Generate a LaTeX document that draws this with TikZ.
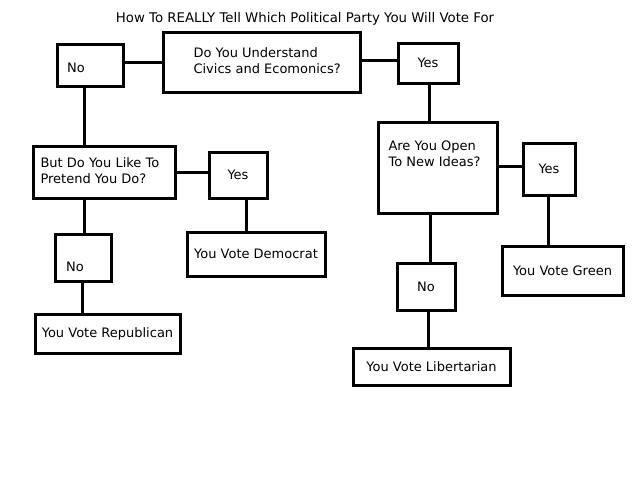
\documentclass[tikz,border=0pt]{standalone}
\usepackage{fontspec}
\setmainfont{DejaVu Sans}
\begin{document}
\begin{tikzpicture}[x=1pt,y=-1pt,
  bx/.style={draw,line width=3pt,inner sep=0pt,font=\fontsize{13}{16}\selectfont},
  ln/.style={line width=3pt}]
\useasboundingbox (0,0) rectangle (640,480);
\node[font=\fontsize{13.3}{15}\selectfont] (title) at (305,19) {How To REALLY Tell Which Political Party You Will Vote For};
\node[bx,minimum width=197,minimum height=60] (q1) at (261.5,62) {};
\node[font=\fontsize{13}{16}\selectfont,align=left,anchor=north west] (q1t) at (190,44) {Do You Understand\\Civics and Ecomonics?};
\node[bx,minimum width=66,minimum height=42] (no1) at (90,65) {};
\node[font=\fontsize{13}{16}\selectfont] (no1t) at (76,68) {No};
\node[bx,minimum width=60,minimum height=40] (yes1) at (428,63) {Yes};
\node[bx,minimum width=142,minimum height=52] (q2) at (104,172) {};
\node[font=\fontsize{13}{16}\selectfont,align=left,anchor=north west] (q2t) at (37,154) {But Do You Like To\\Pretend You Do?};
\node[bx,minimum width=58,minimum height=46] (yes2) at (238,175) {Yes};
\node[bx,minimum width=138,minimum height=44] (dem) at (256,254) {You Vote Democrat};
\node[bx,minimum width=56,minimum height=47] (no2) at (83,257.5) {};
\node[font=\fontsize{13}{16}\selectfont] (no2t) at (75,267) {No};
\node[bx,minimum width=145,minimum height=39] (rep) at (107.5,333.5) {You Vote Republican};
\node[bx,minimum width=119,minimum height=91] (q3) at (437.5,167.5) {};
\node[font=\fontsize{13}{16}\selectfont,align=left,anchor=north west] (q3t) at (385,137) {Are You Open\\To New Ideas?};
\node[bx,minimum width=52,minimum height=52] (yes3) at (549,169) {Yes};
\node[bx,minimum width=121,minimum height=49] (grn) at (562.5,270.5) {You Vote Green};
\node[bx,minimum width=58,minimum height=47] (no3) at (426,286.5) {No};
\node[bx,minimum width=157,minimum height=37] (lib) at (431.5,366.5) {You Vote Libertarian};
\draw[ln] (q1.west |- 0,62) -- (no1.east |- 0,62);
\draw[ln] (q1.east |- 0,60) -- (yes1.west |- 0,60);
\draw[ln] (no1.south -| 84,0) -- (q2.north -| 84,0);
\draw[ln] (q2.east |- 0,172) -- (yes2.west |- 0,172);
\draw[ln] (yes2.south -| 246,0) -- (dem.north -| 246,0);
\draw[ln] (q2.south -| 84,0) -- (no2.north -| 84,0);
\draw[ln] (no2.south -| 82,0) -- (rep.north -| 82,0);
\draw[ln] (yes1.south -| 429,0) -- (q3.north -| 429,0);
\draw[ln] (q3.east |- 0,166) -- (yes3.west |- 0,166);
\draw[ln] (yes3.south -| 548,0) -- (grn.north -| 548,0);
\draw[ln] (q3.south -| 430,0) -- (no3.north -| 430,0);
\draw[ln] (no3.south -| 428,0) -- (lib.north -| 428,0);
\end{tikzpicture}
\end{document}
